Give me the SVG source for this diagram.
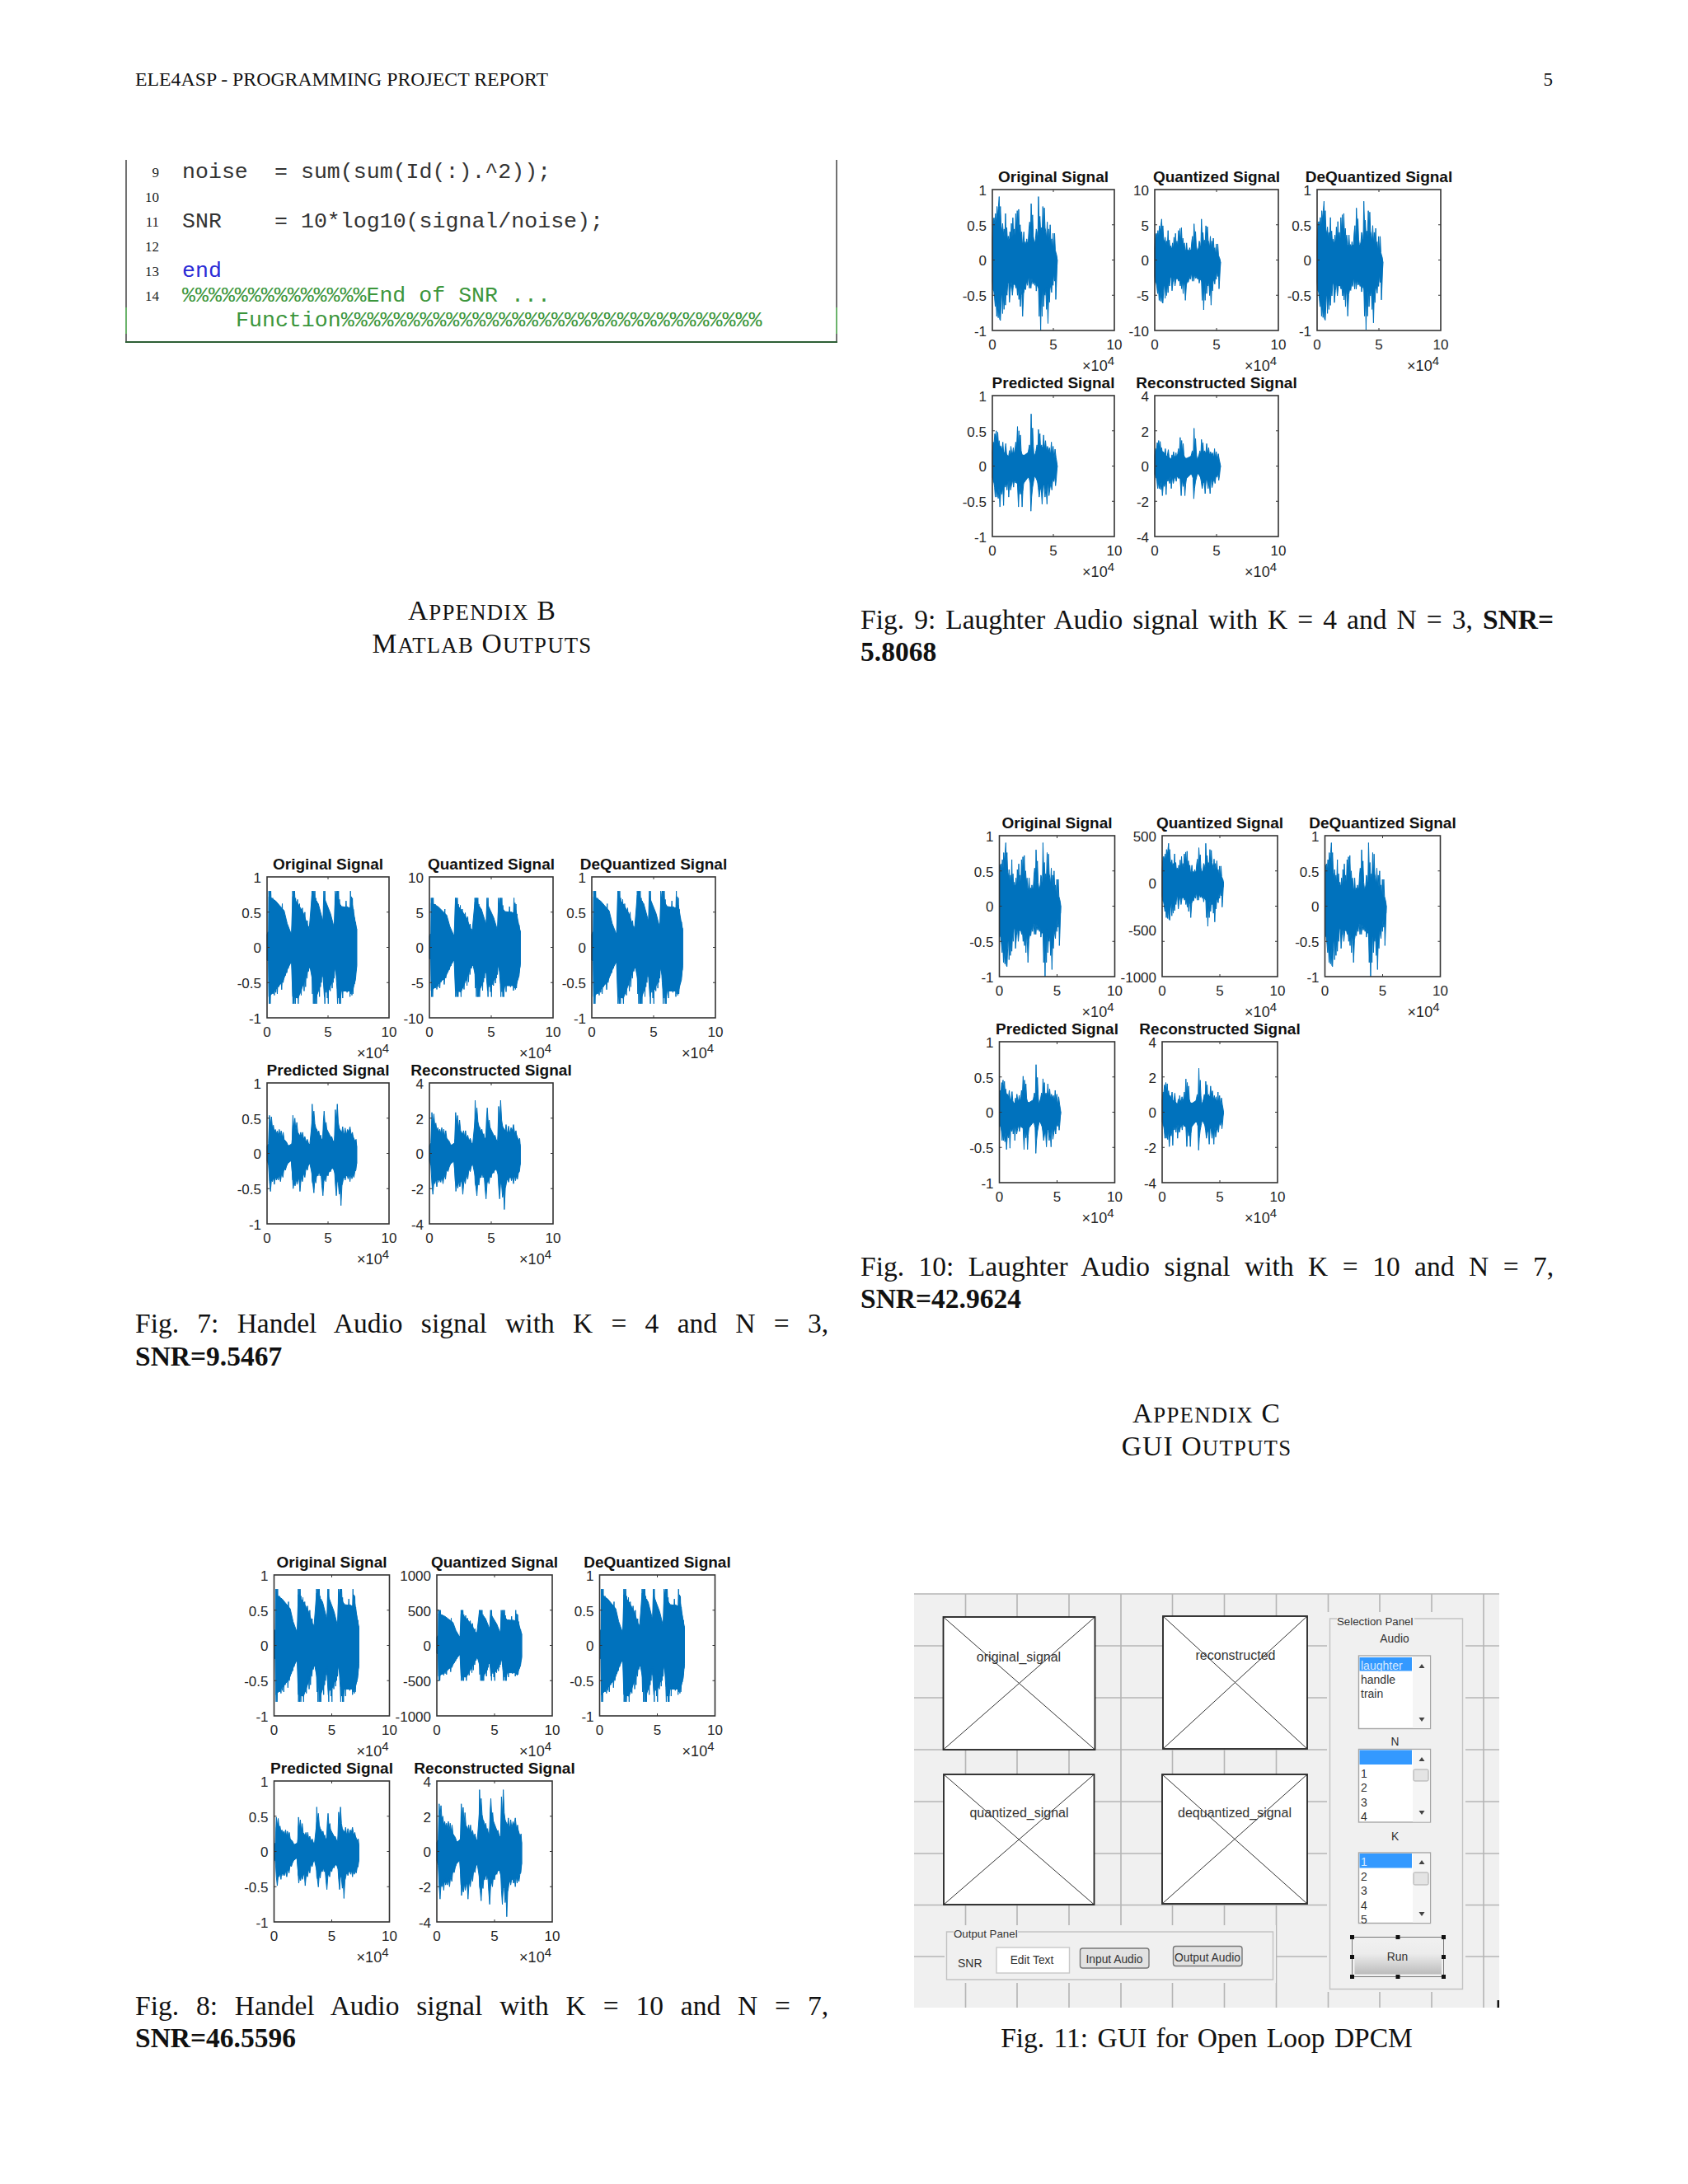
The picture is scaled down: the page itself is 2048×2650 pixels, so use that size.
<svg xmlns="http://www.w3.org/2000/svg" width="2048" height="2650" viewBox="0 0 2048 2650">
<style>
text{font-family:"Liberation Sans",Arial,sans-serif;fill:#262626}
.s,.s tspan{font-family:"Liberation Serif","Times New Roman",serif;fill:#111}
.c{font-family:"Liberation Serif",serif;font-size:33.5px}
.b{font-weight:bold}
.sc{font-size:26.8px}
.m{font-family:"Liberation Mono","Courier New",monospace;font-size:26.6px;fill:#333}
.ln{font-family:"Liberation Serif",serif;font-size:17px;text-anchor:end;fill:#222}
.ti{font-size:19px;font-weight:bold;text-anchor:middle;fill:#111}
.y{font-size:17px;text-anchor:end}
.x{font-size:17px;text-anchor:middle}
.e{font-size:18px;text-anchor:end}
.sg{font-size:15px}
.wv{fill:#0072bd;stroke:#0072bd;stroke-width:1;stroke-linejoin:bevel;vector-effect:non-scaling-stroke}
.bx{fill:none;stroke:#333;stroke-width:1.6}
.tk{fill:none;stroke:#333;stroke-width:1}
.g{fill:none;stroke:#b5b5b5;stroke-width:1.6}
.ax{fill:#fff;stroke:#222;stroke-width:1.8}
.dg{stroke:#333;stroke-width:1;fill:none}
.pn{fill:none;stroke:#c2c2c2;stroke-width:1.4}
.lb{fill:#fff;stroke:#a5a5a5;stroke-width:1.4}
.tr{fill:#f5f5f5}
.gl{font-size:14px;fill:#333}
.gt{font-size:13.3px;fill:#333}
.gm{font-size:13.8px;fill:#333;text-anchor:middle}
.gc{font-size:16px;fill:#333;text-anchor:middle}
.sel{fill:#3399ff}
.hd{fill:#111}
.thumb{fill:#e4e4e4;stroke:#aaa;stroke-width:1}
.tri{fill:#444}
</style>
<defs>
<linearGradient id="runGrad" x1="0" y1="0" x2="0" y2="1"><stop offset="0" stop-color="#f0f0f0"/><stop offset=".4" stop-color="#ececec"/><stop offset="1" stop-color="#bcbcbc"/></linearGradient>
<clipPath id="lbK"><rect x="1648" y="2248" width="88" height="86"/></clipPath>
<clipPath id="lbN"><rect x="1648" y="2122" width="88" height="89"/></clipPath>
<path id="H1" class="wv" d="M0,0L0,-18 8,-22 12,-20 15,-80 19,-62 23,-80 27,-66 31,-80 35,-60 39,-70 43,-68 47,-70 51,-58 55,-66 60,-50 64,-56 68,-44 72,-48 76,-42 80,-52 84,-44 90,-42 94,-46 98,-38 103,-44 108,-36 112,-52 116,-36 120,-46 125,-62 128,-40 132,-52 136,-38 142,-32 146,-35 150,-28 154,-30 160,-26 165,-30 170,-24 178,-20 185,-22 190,-18 198,-20 203,-16 207,-34 210,-80 214,-60 218,-80 222,-66 226,-80 230,-62 234,-70 238,-52 242,-62 246,-50 250,-68 254,-46 258,-52 262,-40 266,-62 270,-40 275,-50 280,-38 285,-44 290,-56 295,-38 300,-42 305,-34 310,-50 315,-30 320,-36 325,-28 330,-38 335,-26 340,-30 345,-24 352,-26 358,-22 364,-34 368,-80 372,-66 376,-80 380,-70 384,-80 388,-70 392,-80 396,-62 400,-70 404,-56 408,-66 412,-48 416,-56 420,-42 424,-50 428,-38 434,-44 440,-34 446,-40 452,-28 458,-32 462,-60 466,-80 470,-62 474,-80 478,-58 482,-64 486,-46 490,-52 494,-40 500,-44 506,-36 512,-34 518,-40 524,-30 530,-34 536,-26 542,-30 548,-24 554,-36 558,-80 562,-60 566,-76 570,-80 574,-62 578,-80 582,-66 586,-80 590,-60 594,-68 598,-54 602,-60 606,-44 612,-56 618,-48 624,-54 630,-42 636,-52 642,-48 648,-66 654,-46 660,-58 666,-42 672,-54 678,-40 684,-80 688,-50 692,-72 696,-54 700,-70 704,-44 708,-54 712,-38 716,-42 720,-30 726,-36 730,-28 735,-26 735,26 733,32 728,34 724,42 720,36 716,52 712,46 708,56 704,66 700,54 696,68 692,60 688,66 684,56 680,70 676,52 672,56 668,48 664,60 660,50 656,64 652,48 648,56 644,46 640,52 636,48 630,60 626,46 620,72 616,46 612,60 606,48 602,80 598,60 594,80 590,62 586,72 582,58 578,80 574,60 570,50 566,38 560,30 556,26 550,44 546,30 542,50 538,34 534,58 530,36 526,52 522,36 518,62 514,36 510,56 506,40 502,80 498,56 494,72 490,50 486,64 482,44 478,40 474,80 470,60 466,44 462,30 458,26 454,42 450,32 446,50 442,36 438,56 434,38 430,70 426,46 422,60 418,50 414,64 410,54 406,80 402,58 398,80 394,56 390,80 386,40 380,80 376,50 372,66 368,40 364,28 358,24 352,30 346,26 340,34 334,28 328,44 322,30 316,56 310,34 304,62 298,40 292,54 286,44 280,68 274,46 268,66 262,48 256,80 250,56 244,66 238,54 232,80 226,62 222,80 216,64 212,80 208,40 204,20 198,22 192,18 186,24 180,22 174,30 168,26 162,36 156,30 150,40 144,36 138,42 132,50 126,42 120,60 114,42 108,50 102,44 96,56 90,48 84,66 78,50 72,64 66,52 60,68 54,56 48,66 42,56 36,66 30,60 26,80 22,60 18,80 14,56 11,20 0,18ZM15,-72L70,-66 100,-60 140,-52 165,-34 200,-18 210,-72 260,-60 300,-48 345,-24 368,-74 420,-62 460,-36 470,-70 520,-48 550,-28 560,-72 610,-58 680,-56 700,-60 725,-34 735,-26 735,26 725,46 700,62 680,62 610,62 602,72 570,40 556,28 540,44 510,60 480,60 470,70 455,30 430,58 400,72 370,44 350,26 320,40 290,56 255,72 210,70 200,20 170,30 130,48 90,56 50,64 15,70Z"/>
<path id="H2" class="wv" d="M0,0L0,-10 12,-14 20,-54 28,-40 36,-52 44,-36 52,-40 60,-30 68,-34 76,-28 84,-32 92,-26 100,-34 108,-24 116,-32 124,-22 132,-30 140,-20 150,-18 160,-16 170,-12 185,-10 200,-8 206,-20 212,-54 220,-36 228,-50 236,-32 244,-44 252,-30 260,-28 268,-24 276,-30 284,-22 292,-30 300,-20 310,-24 320,-16 330,-20 340,-14 352,-12 364,-14 370,-70 376,-48 384,-60 392,-42 400,-36 408,-34 416,-28 424,-32 432,-24 440,-26 448,-18 456,-20 462,-46 468,-60 476,-40 484,-44 492,-30 500,-28 510,-26 520,-22 530,-24 540,-18 552,-16 560,-62 568,-40 576,-70 584,-44 592,-36 600,-32 610,-26 620,-38 630,-24 640,-36 650,-26 660,-34 670,-30 680,-38 690,-26 700,-30 710,-18 720,-16 730,-20 735,-10 735,14 728,24 720,26 712,34 704,30 696,36 688,28 680,40 672,30 664,36 656,30 648,32 640,38 630,30 622,40 614,46 606,74 600,50 592,58 584,42 576,38 568,60 560,44 552,20 540,22 530,18 520,26 510,22 500,32 490,28 482,40 474,34 466,40 458,60 450,46 442,28 434,32 426,24 418,32 410,26 400,42 392,36 384,56 376,44 370,40 364,16 352,14 340,16 330,24 320,20 310,34 300,28 290,40 280,34 270,54 262,36 254,38 246,44 238,36 230,46 222,40 214,50 206,26 198,10 185,10 170,14 160,18 150,24 140,20 130,34 120,28 110,40 100,30 92,38 84,34 76,38 68,30 60,44 52,34 44,40 36,38 28,54 20,40 12,16 0,10ZM20,-38L90,-26 130,-22 170,-10 206,-14 212,-40 250,-28 300,-20 350,-12 370,-46 420,-28 455,-18 468,-42 520,-24 552,-14 565,-42 620,-28 700,-26 725,-16 735,-10 735,14 700,30 640,32 600,42 560,30 540,20 500,28 470,36 450,20 400,34 370,30 350,14 300,26 250,36 210,38 200,10 170,14 130,26 90,34 40,36 15,16Z"/>
<path id="L1" class="wv" d="M0,0L0,-30 8,-58 14,-60 20,-50 26,-66 32,-50 38,-76 44,-62 50,-76 56,-90 60,-60 66,-76 72,-48 78,-40 84,-52 90,-36 96,-44 102,-32 108,-66 112,-34 118,-46 124,-28 130,-34 138,-24 144,-40 150,-26 156,-52 162,-30 168,-60 174,-34 180,-44 186,-30 192,-66 198,-44 204,-70 210,-42 216,-72 222,-38 228,-50 234,-32 240,-40 246,-22 252,-26 258,-40 264,-20 270,-26 276,-18 282,-30 288,-22 294,-26 300,-44 306,-54 312,-26 318,-80 324,-52 330,-64 336,-34 342,-26 348,-24 354,-30 360,-44 366,-40 372,-20 378,-90 384,-54 390,-62 396,-40 402,-46 408,-38 414,-76 420,-40 426,-74 432,-46 438,-40 444,-30 450,-54 456,-28 462,-44 468,-26 474,-50 480,-26 486,-30 492,-14 498,-38 504,-12 510,-38 516,-14 522,-10 528,-6 532,0 530,10 524,40 520,56 516,20 510,30 504,18 498,36 492,26 486,46 480,40 474,36 468,60 462,48 456,90 450,54 444,70 438,40 432,50 426,46 420,66 414,32 408,80 402,44 396,100 390,50 384,80 378,38 372,20 366,34 360,44 354,28 348,36 340,30 332,34 324,26 316,40 310,24 304,40 296,22 288,36 280,30 272,42 264,40 256,48 248,80 242,50 236,40 230,66 224,38 218,56 212,40 206,50 200,36 194,40 188,36 180,34 172,36 164,50 156,30 148,42 140,60 134,34 128,28 120,50 114,40 108,64 102,46 96,70 90,50 84,76 78,40 72,60 66,86 60,84 54,60 48,82 42,64 36,80 30,56 24,66 18,54 12,44 6,42 0,30ZM8,-50L60,-58 80,-36 130,-28 170,-34 220,-36 250,-20 300,-26 340,-22 380,-36 430,-36 470,-26 500,-14 532,0 530,10 500,18 470,34 430,42 390,44 340,26 290,24 250,30 220,36 170,32 130,30 90,46 50,56 8,42Z"/>
<path id="L2" class="wv" d="M0,0L0,-20 8,-34 14,-32 20,-46 26,-40 32,-50 38,-34 44,-48 50,-30 56,-36 62,-24 70,-28 78,-22 86,-34 92,-20 100,-18 110,-32 116,-18 124,-14 132,-12 140,-22 146,-14 152,-28 158,-20 166,-18 172,-26 178,-16 186,-24 192,-34 198,-20 206,-56 212,-28 218,-50 224,-26 230,-44 236,-22 244,-14 252,-16 260,-10 270,-14 280,-12 290,-16 298,-24 304,-30 312,-22 318,-74 324,-32 330,-54 336,-28 342,-12 350,-14 358,-22 366,-30 372,-14 378,-52 384,-34 390,-46 396,-22 404,-30 412,-20 420,-44 428,-24 436,-36 444,-20 452,-28 460,-20 468,-26 476,-14 484,-34 490,-16 498,-28 506,-10 514,-24 522,-12 528,-6 532,0 530,4 524,18 518,28 512,14 504,22 496,18 488,34 480,24 472,32 464,42 456,20 448,54 440,30 432,44 424,28 416,26 408,54 400,30 392,34 384,44 376,30 370,22 362,12 354,16 346,14 338,22 330,30 322,44 316,64 310,24 302,18 294,16 286,12 276,16 268,16 258,22 250,36 244,58 238,30 230,40 222,26 214,58 206,26 198,18 190,24 182,16 174,30 166,20 158,26 150,34 142,20 134,44 128,18 120,34 114,24 106,30 98,24 92,56 86,30 78,40 70,34 62,58 54,30 48,46 42,34 36,44 30,32 24,44 18,30 12,22 0,16ZM8,-30L50,-32 90,-20 130,-14 180,-18 220,-26 250,-14 300,-20 340,-12 380,-30 430,-24 470,-20 510,-10 532,0 530,4 500,16 470,24 430,26 390,30 350,14 300,14 250,26 220,28 170,18 130,20 90,26 50,32 8,22Z"/>
<g id="b148"><rect class="bx" width="148" height="171"/><path class="tk" d="M74,0v3M74,171v-3M0,42.75h3M0,85.5h3M0,128.25h3M148,42.75h-3M148,85.5h-3M148,128.25h-3"/></g>
<g id="b150"><rect class="bx" width="150" height="171"/><path class="tk" d="M75,0v3M75,171v-3M0,42.75h3M0,85.5h3M0,128.25h3M150,42.75h-3M150,85.5h-3M150,128.25h-3"/></g>
<g id="b140"><rect class="bx" width="140" height="171"/><path class="tk" d="M70,0v3M70,171v-3M0,42.75h3M0,85.5h3M0,128.25h3M140,42.75h-3M140,85.5h-3M140,128.25h-3"/></g>
</defs>
<rect width="2048" height="2650" fill="#fff"/>

<g id="header">
<text class="s" x="164" y="104" font-size="23" textLength="501" lengthAdjust="spacingAndGlyphs">ELE4ASP - PROGRAMMING PROJECT REPORT</text>
<text class="s" x="1884" y="104" font-size="23" text-anchor="end">5</text>
</g>

<g id="code">
<path d="M153,194V373M1015,194V373M153,405V415M1015,405V415" fill="none" stroke="#444" stroke-width="1.5"/>
<path d="M153,373V405M1015,373V405" fill="none" stroke="#3c9a3c" stroke-width="1.5"/>
<path d="M152,415H1016" fill="none" stroke="#2d5f35" stroke-width="1.8"/>
<text class="ln" x="193" y="215">9</text>
<text class="ln" x="193" y="245">10</text>
<text class="ln" x="193" y="275">11</text>
<text class="ln" x="193" y="305">12</text>
<text class="ln" x="193" y="335">13</text>
<text class="ln" x="193" y="365">14</text>
<text class="m" x="221" y="216">noise<tspan x="333">= sum(sum(Id(:).^2));</tspan></text>
<text class="m" x="221" y="276">SNR<tspan x="333">= 10*log10(signal/noise);</tspan></text>
<text class="m" x="221" y="336" style="fill:#2b2bd6">end</text>
<text class="m" x="221" y="366" style="fill:#3c963c">%%%%%%%%%%%%%%End of SNR ...</text>
<text class="m" x="286" y="396" style="fill:#3c963c">Function%%%%%%%%%%%%%%%%%%%%%%%%%%%%%%%%</text>
</g>

<g id="headings">
<text class="s" x="585" y="752" font-size="33.5" text-anchor="middle" letter-spacing="1.2">A<tspan class="sc">PPENDIX</tspan> B</text>
<text class="s" x="585" y="792" font-size="33.5" text-anchor="middle" letter-spacing="1.2">M<tspan class="sc">ATLAB</tspan> O<tspan class="sc">UTPUTS</tspan></text>
<text class="s" x="1464" y="1726" font-size="33.5" text-anchor="middle" letter-spacing="1.2">A<tspan class="sc">PPENDIX</tspan> C</text>
<text class="s" x="1464" y="1766" font-size="33.5" text-anchor="middle" letter-spacing="1.2">GUI O<tspan class="sc">UTPUTS</tspan></text>
</g>

<g id="captions">
<text class="s c" x="164" y="1617" word-spacing="13.9">Fig. 7: Handel Audio signal with K = 4 and N = 3,</text>
<text class="s c b" x="164" y="1657">SNR=9.5467</text>
<text class="s c" x="164" y="2445" word-spacing="12.5">Fig. 8: Handel Audio signal with K = 10 and N = 7,</text>
<text class="s c b" x="164" y="2484">SNR=46.5596</text>
<text class="s c" x="1044" y="763" word-spacing="3.7">Fig. 9: Laughter Audio signal with K = 4 and N = 3, <tspan class="b">SNR=</tspan></text>
<text class="s c b" x="1044" y="802">5.8068</text>
<text class="s c" x="1044" y="1548" word-spacing="9.1">Fig. 10: Laughter Audio signal with K = 10 and N = 7,</text>
<text class="s c b" x="1044" y="1587">SNR=42.9624</text>
<text class="s c" x="1464" y="2484" text-anchor="middle" word-spacing="3">Fig. 11: GUI for Open Loop DPCM</text>
</g>

<g id="fig7">
<g transform="translate(324,1064)"><use href="#H1" transform="translate(0,85.5) scale(.148,.855)"/><use href="#b148"/><text class="ti" x="74" y="-9">Original Signal</text><text class="y" x="-7" y="7">1</text><text class="y" x="-7" y="50">0.5</text><text class="y" x="-7" y="92">0</text><text class="y" x="-7" y="135">-0.5</text><text class="y" x="-7" y="178">-1</text><text class="x" x="0" y="194">0</text><text class="x" x="74" y="194">5</text><text class="x" x="148" y="194">10</text><text class="e" x="148" y="220">×10<tspan class="sg" dy="-7">4</tspan></text></g>
<g transform="translate(521,1064)"><use href="#H1" transform="translate(0,85.5) scale(.15,.75)"/><use href="#b150"/><text class="ti" x="75" y="-9">Quantized Signal</text><text class="y" x="-7" y="7">10</text><text class="y" x="-7" y="50">5</text><text class="y" x="-7" y="92">0</text><text class="y" x="-7" y="135">-5</text><text class="y" x="-7" y="178">-10</text><text class="x" x="0" y="194">0</text><text class="x" x="75" y="194">5</text><text class="x" x="150" y="194">10</text><text class="e" x="148" y="220">×10<tspan class="sg" dy="-7">4</tspan></text></g>
<g transform="translate(718,1064)"><use href="#H1" transform="translate(0,85.5) scale(.15,.855)"/><use href="#b150"/><text class="ti" x="75" y="-9">DeQuantized Signal</text><text class="y" x="-7" y="7">1</text><text class="y" x="-7" y="50">0.5</text><text class="y" x="-7" y="92">0</text><text class="y" x="-7" y="135">-0.5</text><text class="y" x="-7" y="178">-1</text><text class="x" x="0" y="194">0</text><text class="x" x="75" y="194">5</text><text class="x" x="150" y="194">10</text><text class="e" x="148" y="220">×10<tspan class="sg" dy="-7">4</tspan></text></g>
<g transform="translate(324,1314)"><use href="#H2" transform="translate(0,85.5) scale(.148,.855)"/><use href="#b148"/><text class="ti" x="74" y="-9">Predicted Signal</text><text class="y" x="-7" y="7">1</text><text class="y" x="-7" y="50">0.5</text><text class="y" x="-7" y="92">0</text><text class="y" x="-7" y="135">-0.5</text><text class="y" x="-7" y="178">-1</text><text class="x" x="0" y="194">0</text><text class="x" x="74" y="194">5</text><text class="x" x="148" y="194">10</text><text class="e" x="148" y="220">×10<tspan class="sg" dy="-7">4</tspan></text></g>
<g transform="translate(521,1314)"><use href="#H2" transform="translate(0,85.5) scale(.15,.92)"/><use href="#b150"/><text class="ti" x="75" y="-9">Reconstructed Signal</text><text class="y" x="-7" y="7">4</text><text class="y" x="-7" y="50">2</text><text class="y" x="-7" y="92">0</text><text class="y" x="-7" y="135">-2</text><text class="y" x="-7" y="178">-4</text><text class="x" x="0" y="194">0</text><text class="x" x="75" y="194">5</text><text class="x" x="150" y="194">10</text><text class="e" x="148" y="220">×10<tspan class="sg" dy="-7">4</tspan></text></g>
</g>

<g id="fig8">
<g transform="translate(332.5,1911)"><use href="#H1" transform="translate(0,85.5) scale(.14,.855)"/><use href="#b140"/><text class="ti" x="70" y="-9">Original Signal</text><text class="y" x="-7" y="7">1</text><text class="y" x="-7" y="50">0.5</text><text class="y" x="-7" y="92">0</text><text class="y" x="-7" y="135">-0.5</text><text class="y" x="-7" y="178">-1</text><text class="x" x="0" y="194">0</text><text class="x" x="70" y="194">5</text><text class="x" x="140" y="194">10</text><text class="e" x="139" y="220">×10<tspan class="sg" dy="-7">4</tspan></text></g>
<g transform="translate(530,1911)"><use href="#H1" transform="translate(0,85.5) scale(.14,.535)"/><use href="#b140"/><text class="ti" x="70" y="-9">Quantized Signal</text><text class="y" x="-7" y="7">1000</text><text class="y" x="-7" y="50">500</text><text class="y" x="-7" y="92">0</text><text class="y" x="-7" y="135">-500</text><text class="y" x="-7" y="178">-1000</text><text class="x" x="0" y="194">0</text><text class="x" x="70" y="194">5</text><text class="x" x="140" y="194">10</text><text class="e" x="139" y="220">×10<tspan class="sg" dy="-7">4</tspan></text></g>
<g transform="translate(727.5,1911)"><use href="#H1" transform="translate(0,85.5) scale(.14,.855)"/><use href="#b140"/><text class="ti" x="70" y="-9">DeQuantized Signal</text><text class="y" x="-7" y="7">1</text><text class="y" x="-7" y="50">0.5</text><text class="y" x="-7" y="92">0</text><text class="y" x="-7" y="135">-0.5</text><text class="y" x="-7" y="178">-1</text><text class="x" x="0" y="194">0</text><text class="x" x="70" y="194">5</text><text class="x" x="140" y="194">10</text><text class="e" x="139" y="220">×10<tspan class="sg" dy="-7">4</tspan></text></g>
<g transform="translate(332.5,2161)"><use href="#H2" transform="translate(0,85.5) scale(.14,.77)"/><use href="#b140"/><text class="ti" x="70" y="-9">Predicted Signal</text><text class="y" x="-7" y="7">1</text><text class="y" x="-7" y="50">0.5</text><text class="y" x="-7" y="92">0</text><text class="y" x="-7" y="135">-0.5</text><text class="y" x="-7" y="178">-1</text><text class="x" x="0" y="194">0</text><text class="x" x="70" y="194">5</text><text class="x" x="140" y="194">10</text><text class="e" x="139" y="220">×10<tspan class="sg" dy="-7">4</tspan></text></g>
<g transform="translate(530,2161)"><use href="#H2" transform="translate(0,85.5) scale(.14,1.07)"/><use href="#b140"/><text class="ti" x="70" y="-9">Reconstructed Signal</text><text class="y" x="-7" y="7">4</text><text class="y" x="-7" y="50">2</text><text class="y" x="-7" y="92">0</text><text class="y" x="-7" y="135">-2</text><text class="y" x="-7" y="178">-4</text><text class="x" x="0" y="194">0</text><text class="x" x="70" y="194">5</text><text class="x" x="140" y="194">10</text><text class="e" x="139" y="220">×10<tspan class="sg" dy="-7">4</tspan></text></g>
</g>

<g id="fig9">
<g transform="translate(1204,230)"><use href="#L1" transform="translate(0,85.5) scale(.148,.855)"/><use href="#b148"/><text class="ti" x="74" y="-9">Original Signal</text><text class="y" x="-7" y="7">1</text><text class="y" x="-7" y="50">0.5</text><text class="y" x="-7" y="92">0</text><text class="y" x="-7" y="135">-0.5</text><text class="y" x="-7" y="178">-1</text><text class="x" x="0" y="194">0</text><text class="x" x="74" y="194">5</text><text class="x" x="148" y="194">10</text><text class="e" x="148" y="220">×10<tspan class="sg" dy="-7">4</tspan></text></g>
<g transform="translate(1401,230)"><use href="#L1" transform="translate(0,88) scale(.15,.58)"/><use href="#b150"/><text class="ti" x="75" y="-9">Quantized Signal</text><text class="y" x="-7" y="7">10</text><text class="y" x="-7" y="50">5</text><text class="y" x="-7" y="92">0</text><text class="y" x="-7" y="135">-5</text><text class="y" x="-7" y="178">-10</text><text class="x" x="0" y="194">0</text><text class="x" x="75" y="194">5</text><text class="x" x="150" y="194">10</text><text class="e" x="148" y="220">×10<tspan class="sg" dy="-7">4</tspan></text></g>
<g transform="translate(1598,230)"><use href="#L1" transform="translate(0,88) scale(.15,.82)"/><use href="#b150"/><text class="ti" x="75" y="-9">DeQuantized Signal</text><text class="y" x="-7" y="7">1</text><text class="y" x="-7" y="50">0.5</text><text class="y" x="-7" y="92">0</text><text class="y" x="-7" y="135">-0.5</text><text class="y" x="-7" y="178">-1</text><text class="x" x="0" y="194">0</text><text class="x" x="75" y="194">5</text><text class="x" x="150" y="194">10</text><text class="e" x="148" y="220">×10<tspan class="sg" dy="-7">4</tspan></text></g>
<g transform="translate(1204,480)"><use href="#L2" transform="translate(0,85.5) scale(.148,.855)"/><use href="#b148"/><text class="ti" x="74" y="-9">Predicted Signal</text><text class="y" x="-7" y="7">1</text><text class="y" x="-7" y="50">0.5</text><text class="y" x="-7" y="92">0</text><text class="y" x="-7" y="135">-0.5</text><text class="y" x="-7" y="178">-1</text><text class="x" x="0" y="194">0</text><text class="x" x="74" y="194">5</text><text class="x" x="148" y="194">10</text><text class="e" x="148" y="220">×10<tspan class="sg" dy="-7">4</tspan></text></g>
<g transform="translate(1401,480)"><use href="#L2" transform="translate(0,85.5) scale(.15,.62)"/><use href="#b150"/><text class="ti" x="75" y="-9">Reconstructed Signal</text><text class="y" x="-7" y="7">4</text><text class="y" x="-7" y="50">2</text><text class="y" x="-7" y="92">0</text><text class="y" x="-7" y="135">-2</text><text class="y" x="-7" y="178">-4</text><text class="x" x="0" y="194">0</text><text class="x" x="75" y="194">5</text><text class="x" x="150" y="194">10</text><text class="e" x="148" y="220">×10<tspan class="sg" dy="-7">4</tspan></text></g>
</g>

<g id="fig10">
<g transform="translate(1212.5,1014)"><use href="#L1" transform="translate(0,85.5) scale(.14,.855)"/><use href="#b140"/><text class="ti" x="70" y="-9">Original Signal</text><text class="y" x="-7" y="7">1</text><text class="y" x="-7" y="50">0.5</text><text class="y" x="-7" y="92">0</text><text class="y" x="-7" y="135">-0.5</text><text class="y" x="-7" y="178">-1</text><text class="x" x="0" y="194">0</text><text class="x" x="70" y="194">5</text><text class="x" x="140" y="194">10</text><text class="e" x="139" y="220">×10<tspan class="sg" dy="-7">4</tspan></text></g>
<g transform="translate(1410,1014)"><use href="#L1" transform="translate(0,57) scale(.14,.53)"/><use href="#b140"/><text class="ti" x="70" y="-9">Quantized Signal</text><text class="y" x="-7" y="7">500</text><text class="y" x="-7" y="64">0</text><text class="y" x="-7" y="121">-500</text><text class="y" x="-7" y="178">-1000</text><text class="x" x="0" y="194">0</text><text class="x" x="70" y="194">5</text><text class="x" x="140" y="194">10</text><text class="e" x="139" y="220">×10<tspan class="sg" dy="-7">4</tspan></text></g>
<g transform="translate(1607.5,1014)"><use href="#L1" transform="translate(0,85.5) scale(.14,.855)"/><use href="#b140"/><text class="ti" x="70" y="-9">DeQuantized Signal</text><text class="y" x="-7" y="7">1</text><text class="y" x="-7" y="50">0.5</text><text class="y" x="-7" y="92">0</text><text class="y" x="-7" y="135">-0.5</text><text class="y" x="-7" y="178">-1</text><text class="x" x="0" y="194">0</text><text class="x" x="70" y="194">5</text><text class="x" x="140" y="194">10</text><text class="e" x="139" y="220">×10<tspan class="sg" dy="-7">4</tspan></text></g>
<g transform="translate(1212.5,1264)"><use href="#L2" transform="translate(0,85.5) scale(.14,.78)"/><use href="#b140"/><text class="ti" x="70" y="-9">Predicted Signal</text><text class="y" x="-7" y="7">1</text><text class="y" x="-7" y="50">0.5</text><text class="y" x="-7" y="92">0</text><text class="y" x="-7" y="135">-0.5</text><text class="y" x="-7" y="178">-1</text><text class="x" x="0" y="194">0</text><text class="x" x="70" y="194">5</text><text class="x" x="140" y="194">10</text><text class="e" x="139" y="220">×10<tspan class="sg" dy="-7">4</tspan></text></g>
<g transform="translate(1410,1264)"><use href="#L2" transform="translate(0,85.5) scale(.14,.72)"/><use href="#b140"/><text class="ti" x="70" y="-9">Reconstructed Signal</text><text class="y" x="-7" y="7">4</text><text class="y" x="-7" y="50">2</text><text class="y" x="-7" y="92">0</text><text class="y" x="-7" y="135">-2</text><text class="y" x="-7" y="178">-4</text><text class="x" x="0" y="194">0</text><text class="x" x="70" y="194">5</text><text class="x" x="140" y="194">10</text><text class="e" x="139" y="220">×10<tspan class="sg" dy="-7">4</tspan></text></g>
</g>

<g id="fig11">
<rect x="1109" y="1934" width="710" height="502" fill="#f0f0f0"/>
<path class="g" d="M1109,1934H1819M1109,1997H1819M1109,2060H1819M1109,2123H1819M1109,2186H1819M1109,2249H1819M1109,2311.5H1819M1109,2374H1819M1171.5,1934V2436M1234,1934V2436M1297,1934V2436M1360,1934V2436M1422.5,1934V2436M1485.5,1934V2436M1548.5,1934V2436M1611.5,1934V2436M1674,1934V2436M1737,1934V2436M1800,1934V2436"/>
<rect x="1610" y="1956" width="168" height="461" fill="#f0f0f0"/>
<rect x="1146" y="2336" width="402" height="70" fill="#f0f0f0"/>
<rect x="1816.5" y="2427" width="2.5" height="9" fill="#111"/>
<g id="ax-original"><rect class="ax" x="1144.5" y="1962" width="184" height="161"/><path class="dg" d="M1144.5,1962L1328.5,2123M1328.5,1962L1144.5,2123"/><text class="gc" x="1236" y="2016">original_signal</text></g>
<g id="ax-reconstructed"><rect class="ax" x="1411" y="1961" width="175" height="161"/><path class="dg" d="M1411,1961L1586,2122M1586,1961L1411,2122"/><text class="gc" x="1499" y="2014">reconstructed</text></g>
<g id="ax-quantized"><rect class="ax" x="1145" y="2153" width="182.5" height="158"/><path class="dg" d="M1145,2153L1327.5,2311M1327.5,2153L1145,2311"/><text class="gc" x="1236.5" y="2205">quantized_signal</text></g>
<g id="ax-dequantized"><rect class="ax" x="1410" y="2153" width="176" height="157"/><path class="dg" d="M1410,2153L1586,2310M1586,2153L1410,2310"/><text class="gc" x="1498" y="2205">dequantized_signal</text></g>
<g id="selection-panel">
<path class="pn" d="M1622,1964H1613.5V2413.5H1774.5V1964H1716"/>
<text class="gt" x="1622" y="1972">Selection Panel</text>
<text class="gm" x="1692" y="1993">Audio</text>
<g id="list-audio"><rect class="lb" x="1648.5" y="2009" width="87" height="88.5"/><rect class="tr" x="1714" y="2010" width="21" height="87"/><rect class="sel" x="1649.5" y="2011" width="63.5" height="16.5"/><text class="gl" x="1651" y="2025.5" style="fill:#d6e9ff">laughter</text><text class="gl" x="1651" y="2042.5">handle</text><text class="gl" x="1651" y="2060">train</text><path class="tri" d="M1725,2019l3.5,5h-7zM1725,2089l3.5,-5h-7z"/></g>
<text class="gm" x="1692.5" y="2118">N</text>
<g id="list-n"><rect class="lb" x="1648.5" y="2122.5" width="87" height="88.5"/><rect class="tr" x="1714" y="2123.5" width="21" height="87"/><rect class="sel" x="1649.5" y="2123.5" width="63.5" height="17.5"/><g clip-path="url(#lbN)"><text class="gl" x="1651" y="2157">1</text><text class="gl" x="1651" y="2174">2</text><text class="gl" x="1651" y="2191.5">3</text><text class="gl" x="1651" y="2208.5">4</text></g><rect class="thumb" x="1715" y="2147" width="18" height="14" rx="1.5"/><path class="tri" d="M1725,2132l3.5,5h-7zM1725,2202l3.5,-5h-7z"/></g>
<text class="gm" x="1692.5" y="2233">K</text>
<g id="list-k"><rect class="lb" x="1648.5" y="2248" width="87" height="85.5"/><rect class="tr" x="1714" y="2249" width="21" height="84"/><rect class="sel" x="1649.5" y="2249" width="63.5" height="17.5"/><g clip-path="url(#lbK)"><text class="gl" x="1651" y="2264" style="fill:#d6e9ff">1</text><text class="gl" x="1651" y="2281.5">2</text><text class="gl" x="1651" y="2299">3</text><text class="gl" x="1651" y="2317">4</text><text class="gl" x="1651" y="2334">5</text></g><rect class="thumb" x="1715" y="2272" width="18" height="15" rx="1.5"/><path class="tri" d="M1725,2257l3.5,5h-7zM1725,2325l3.5,-5h-7z"/></g>
<g id="run"><rect x="1643.5" y="2354" width="105.5" height="41.5" fill="url(#runGrad)"/><rect x="1640.5" y="2350.5" width="111" height="48" fill="none" stroke="#777" stroke-width="1"/><path class="hd" d="M1638,2348h5v5h-5zM1693.5,2348h5v5h-5zM1749,2348h5v5h-5zM1638,2372h5v5h-5zM1749,2372h5v5h-5zM1638,2396h5v5h-5zM1693.5,2396h5v5h-5zM1749,2396h5v5h-5z"/><text class="gm" x="1695.5" y="2379">Run</text></g>
</g>
<g id="output-panel">
<path class="pn" d="M1157,2344H1148.5V2402H1544.5V2344H1235"/>
<text class="gt" x="1157" y="2350.5">Output Panel</text>
<text class="gl" x="1162" y="2387">SNR</text>
<rect x="1209" y="2363" width="88.5" height="31" fill="#fff" stroke="#c8c8c8" stroke-width="1.4"/><text class="gm" x="1252" y="2383">Edit Text</text>
<rect x="1310.5" y="2364" width="83.5" height="24" rx="3" fill="#e2e2e2" stroke="#777" stroke-width="1.4"/><text class="gm" x="1352" y="2382">Input Audio</text>
<rect x="1423.5" y="2361.5" width="83.5" height="24" rx="3" fill="#e2e2e2" stroke="#777" stroke-width="1.4"/><text class="gm" x="1465" y="2379.5">Output Audio</text>
</g>
</g>
</svg>
